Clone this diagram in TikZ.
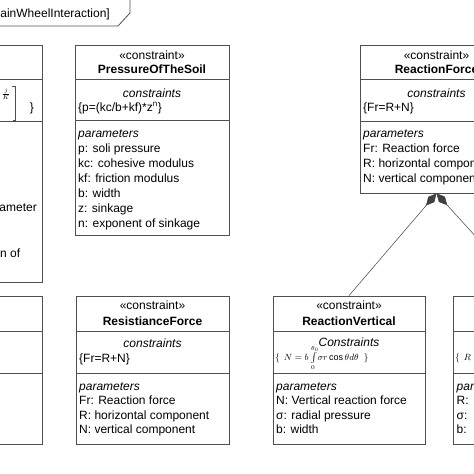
\documentclass[tikz,border=0pt]{standalone}
\usepackage{fontspec}
\setmainfont{Liberation Sans}
\usetikzlibrary{arrows.meta}
\definecolor{edgegray}{HTML}{505050}
\definecolor{linkgray}{HTML}{404040}
\begin{document}
\fontsize{12}{15}\selectfont
\begin{tikzpicture}[x=1pt,y=-1pt,
  box/.style={draw=edgegray, line width=0.8pt, inner sep=0pt, rectangle},
  sepline/.style={draw=edgegray, line width=0.8pt},
  txt/.style={anchor=base west, inner sep=0pt},
  ctxt/.style={anchor=base, inner sep=0pt},
  link/.style={draw=linkgray, line width=0.5pt},
  comp/.style={-{Diamond[length=16pt,width=8pt]}}]
\useasboundingbox (0,0) rectangle (474,474);
\fill[white] (0,0) rectangle (474,474);

% frame header
\draw[sepline] (0,26) -- (118,26) -- (130,13) -- (130,0);
\node[anchor=base east, inner sep=0pt] (hdr) at (110,17) {ainWheelInteraction]};

% boxes
\node[box, minimum width=153pt, minimum height=237pt] (lt) at (-34.5,163.5) {};
\node[box, minimum width=154pt, minimum height=190pt] (ps) at (152,140) {};
\node[box, minimum width=153pt, minimum height=148pt] (rf) at (436.5,119) {};
\node[box, minimum width=153pt, minimum height=148pt] (lb) at (-34.5,370) {};
\node[box, minimum width=153pt, minimum height=148pt] (rs) at (152.5,370) {};
\node[box, minimum width=152pt, minimum height=148pt] (rv) at (349,370) {};
\node[box, minimum width=153pt, minimum height=148pt] (rr) at (529.5,370) {};

% separators
\draw[sepline] (-111,79) -- (42,79);
\draw[sepline] (-111,121) -- (42,121);
\draw[sepline] (75,79) -- (229,79);
\draw[sepline] (75,120) -- (229,120);
\draw[sepline] (360,79) -- (513,79);
\draw[sepline] (360,121) -- (513,121);
\foreach \a/\b in {-111/42, 76/229, 273/425, 453/606}{
  \draw[sepline] (\a,331) -- (\b,331);
  \draw[sepline] (\a,373) -- (\b,373);
}

% top-left box (cropped)
\node[inner sep=0pt] (ltf) at (6,94) {\fontsize{8}{9}\selectfont$\frac{j}{K}$};
\draw[edgegray, line width=0.5pt] (12,86) -- (15,86) -- (15,120) -- (13,120);
\node[inner sep=0pt] (ltb) at (32,108) {\}};
\node[anchor=base east, inner sep=0pt] (lt3) at (37,211) {ameter};
\node[anchor=base west, inner sep=0pt] (lt4) at (0,257) {n of};

% PressureOfTheSoil
\node[ctxt] (ps1) at (152,59) {«constraint»};
\node[ctxt] (ps2) at (152,73) {\bfseries PressureOfTheSoil};
\node[ctxt] (ps3) at (152,97) {\itshape constraints};
\node[txt] (ps4) at (78,111) {\{p=(kc/b+kf)*z\textsuperscript{n}\}};
\node[txt] (ps5) at (78,137) {\itshape parameters};
\node[txt] (ps6) at (78,152) {p: soli pressure};
\node[txt] (ps7) at (78,167) {kc: cohesive modulus};
\node[txt] (ps8) at (78,182) {kf: friction modulus};
\node[txt] (ps9) at (78,197) {b: width};
\node[txt] (ps10) at (78,212) {z: sinkage};
\node[txt] (ps11) at (78,227) {n: exponent of sinkage};

% ReactionForce
\node[ctxt] (rf1) at (436.5,59) {«constraint»};
\node[ctxt] (rf2) at (436.5,73) {\bfseries ReactionForce};
\node[ctxt] (rf3) at (436.5,97) {\itshape constraints};
\node[txt] (rf4) at (363,111) {\{Fr=R+N\}};
\node[txt] (rf5) at (363,137) {\itshape parameters};
\node[txt] (rf6) at (363,152) {Fr: Reaction force};
\node[txt] (rf7) at (363,167) {R: horizontal component};
\node[txt] (rf8) at (363,182) {N: vertical component};

% ResistianceForce
\node[ctxt] (rs1) at (152.5,309) {«constraint»};
\node[ctxt] (rs2) at (152.5,325) {\bfseries ResistianceForce};
\node[ctxt] (rs3) at (152.5,347) {\itshape constraints};
\node[txt] (rs4) at (79,362) {\{Fr=R+N\}};
\node[txt] (rs5) at (79,390) {\itshape parameters};
\node[txt] (rs6) at (79,404) {Fr: Reaction force};
\node[txt] (rs7) at (79,419) {R: horizontal component};
\node[txt] (rs8) at (79,433) {N: vertical component};

% ReactionVertical
\node[ctxt] (rv1) at (349,309) {«constraint»};
\node[ctxt] (rv2) at (349,325) {\bfseries ReactionVertical};
\node[ctxt] (rv3) at (349,346) {\itshape Constraints};
\node[anchor=west, inner sep=0pt] (rv4) at (275,358) {\fontsize{9}{10}\selectfont$\{\;\, N=b\int\limits_{0}^{\theta_0}\!\sigma r\cos\theta d\theta\;\;\}$};
\node[txt] (rv5) at (276,390) {\itshape parameters};
\node[txt] (rv6) at (276,404) {N: Vertical reaction force};
\node[txt] (rv7) at (276,419) {σ: radial pressure};
\node[txt] (rv8) at (276,433) {b: width};

% right box (cropped)
\node[anchor=west, inner sep=0pt] (rr4) at (455,358) {\fontsize{9}{10}\selectfont$\{\;\, R$};
\node[txt] (rr5) at (456.5,390) {\itshape parameters};
\node[txt] (rr6) at (456.5,404) {R:};
\node[txt] (rr7) at (456.5,419) {σ:};
\node[txt] (rr8) at (456.5,433) {b:};

% composition links
\draw[link, comp] (rv.north) -- (rf.south);
\draw[link, comp] (rr.north) -- (rf.south);
\end{tikzpicture}
\end{document}
